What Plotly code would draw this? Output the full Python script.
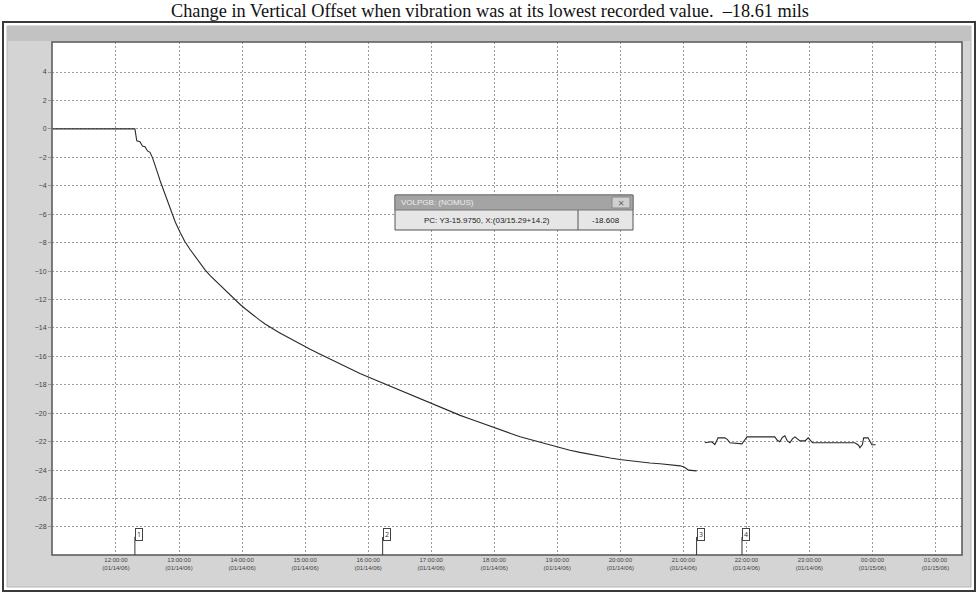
import plotly.graph_objects as go

# ---- data (x: hour index from start of window, y: vertical offset change, mils)
x_main = [0.0, 1.30, 1.33, 1.38, 1.42, 1.46, 1.50, 1.54, 1.58, 1.62, 1.66, 1.70, 1.78, 1.86, 1.94,
          2.02, 2.09, 2.17, 2.25, 2.33, 2.41, 2.49, 2.57, 2.65, 2.73, 2.81, 2.89, 2.97, 3.05,
          3.13, 3.21, 3.28, 3.36, 3.44, 3.52, 3.60, 3.68, 3.76, 3.84, 3.92, 4.08, 4.24, 4.40,
          4.55, 4.71, 4.87, 5.03, 5.19, 5.35, 5.50, 5.66, 5.82, 5.98, 6.14, 6.30, 6.46, 6.62,
          6.77, 6.93, 7.09, 7.25, 7.41, 7.57, 7.72, 7.88, 8.04, 8.20, 8.36, 8.52, 8.68, 8.84,
          8.99, 9.15, 9.31, 9.47, 9.63, 9.79, 9.95, 10.02, 10.08, 10.21]
y_main = [0.0, 0.0, -0.84, -0.90, -1.20, -1.25, -1.55, -1.65, -2.04, -2.50, -3.10, -3.65, -4.60,
          -5.65, -6.55, -7.30, -7.90, -8.45, -8.95, -9.45, -9.90, -10.30, -10.65, -11.00, -11.35,
          -11.70, -12.05, -12.35, -12.65, -12.95, -13.20, -13.45, -13.70, -13.95, -14.15, -14.35,
          -14.55, -14.75, -14.95, -15.15, -15.50, -15.85, -16.20, -16.50, -16.85, -17.20, -17.50,
          -17.80, -18.10, -18.40, -18.70, -18.95, -19.25, -19.55, -19.85, -20.15, -20.40, -20.65,
          -20.90, -21.15, -21.40, -21.65, -21.85, -22.05, -22.25, -22.45, -22.60, -22.75, -22.90,
          -23.05, -23.15, -23.25, -23.35, -23.45, -23.50, -23.55, -23.62, -23.70, -23.80, -24.00,
          -24.05]

x_late = [10.34, 10.45, 10.50, 10.55, 10.66, 10.70, 10.74, 10.93, 10.97, 11.01, 11.21, 11.45, 11.49,
          11.53, 11.57, 11.61, 11.65, 11.69, 11.73, 11.77, 11.85, 11.93, 11.98, 12.05, 12.72, 12.78,
          12.80, 12.84, 12.86, 12.93, 12.99, 13.05]
y_late = [-22.08, -22.01, -22.20, -21.73, -21.73, -21.85, -22.08, -22.15, -21.90, -21.66, -21.66,
          -21.66, -21.90, -22.01, -21.70, -21.59, -21.95, -22.08, -21.80, -21.66, -21.94, -21.94,
          -21.73, -22.08, -22.08, -22.25, -22.43, -22.20, -21.73, -21.73, -22.22, -22.22]

event_x = [1.30, 5.23, 10.21, 10.93]
event_labels = ["1", "2", "3", "4"]

y_ticks = [4, 2, 0, -2, -4, -6, -8, -10, -12, -14, -16, -18, -20, -22, -24, -26, -28]
x_ticks = list(range(1, 15))
x_tick_text = ["12:00:00<br>(01/14/06)", "13:00:00<br>(01/14/06)", "14:00:00<br>(01/14/06)",
               "15:00:00<br>(01/14/06)", "16:00:00<br>(01/14/06)", "17:00:00<br>(01/14/06)",
               "18:00:00<br>(01/14/06)", "19:00:00<br>(01/14/06)", "20:00:00<br>(01/14/06)",
               "21:00:00<br>(01/14/06)", "22:00:00<br>(01/14/06)", "23:00:00<br>(01/14/06)",
               "00:00:00<br>(01/15/06)", "01:00:00<br>(01/15/06)"]

title_text = "Change in Vertical Offset when vibration was at its lowest recorded value.  \u201318.61 mils"

# ---- layout geometry
W, H = 980, 594
L, R, T, B = 52, 962, 42, 555


def px(xp):
    return (xp - L) / (R - L)


def py(yp):
    return (B - yp) / (B - T)


fig = go.Figure()
line_style = dict(color="#2a2a2a", width=1.1)
fig.add_trace(go.Scatter(x=x_main, y=y_main, mode="lines", line=line_style, showlegend=False,
                         hoverinfo="skip"))
fig.add_trace(go.Scatter(x=x_late, y=y_late, mode="lines", line=line_style, showlegend=False,
                         hoverinfo="skip"))

shapes = []
# outer frame & grey panel
shapes.append(dict(type="rect", xref="paper", yref="paper", x0=px(3), x1=px(975), y0=py(591), y1=py(22),
                   line=dict(color="#3a3a3a", width=2), fillcolor="#ffffff", layer="below"))
shapes.append(dict(type="rect", xref="paper", yref="paper", x0=px(7), x1=px(971), y0=py(587), y1=py(26),
                   line=dict(color="#b8b8b8", width=1), fillcolor="#d4d4d4", layer="below"))
shapes.append(dict(type="rect", xref="paper", yref="paper", x0=px(7), x1=px(971), y0=py(41), y1=py(26),
                   line=dict(width=0), fillcolor="#c2c2c2", layer="below"))
shapes.append(dict(type="rect", xref="paper", yref="paper", x0=0, x1=1, y0=0, y1=1,
                   line=dict(width=0), fillcolor="#ffffff", layer="below"))
# plot border
shapes.append(dict(type="rect", xref="paper", yref="paper", x0=0, x1=1, y0=0, y1=1,
                   line=dict(color="#555555", width=1.5), layer="above"))

annotations = []
# event flags
for ex, lab in zip(event_x, event_labels):
    shapes.append(dict(type="line", xref="x", yref="y", x0=ex, x1=ex, y0=-30, y1=-28.7,
                       line=dict(color="#333333", width=1)))
    annotations.append(dict(x=ex, y=-29.0, xref="x", yref="y", text=lab, showarrow=False,
                            xanchor="left", yanchor="bottom", font=dict(size=7, color="#333333"),
                            bordercolor="#444444", borderwidth=1, borderpad=1, bgcolor="#ffffff"))

# popup box
bx0, bx1, by0, by1, bmid, bsplit = 395, 633, 195, 230, 210, 578
shapes.append(dict(type="rect", xref="paper", yref="paper", x0=px(bx0), x1=px(bx1), y0=py(by1), y1=py(by0),
                   line=dict(color="#555555", width=1), fillcolor="#e6e6e6", layer="above"))
shapes.append(dict(type="rect", xref="paper", yref="paper", x0=px(bx0), x1=px(bx1), y0=py(bmid), y1=py(by0),
                   line=dict(color="#777777", width=1), fillcolor="#a4a4a4", layer="above"))
shapes.append(dict(type="rect", xref="paper", yref="paper", x0=px(612), x1=px(630), y0=py(208), y1=py(197),
                   line=dict(color="#888888", width=1), fillcolor="#cfcfcf", layer="above"))
shapes.append(dict(type="line", xref="paper", yref="paper", x0=px(bsplit), x1=px(bsplit), y0=py(by1), y1=py(bmid),
                   line=dict(color="#555555", width=1), layer="above"))
annotations.append(dict(x=px(399), y=py(202.5), xref="paper", yref="paper", text="VOLPGB: (NOMUS)",
                        showarrow=False, xanchor="left", yanchor="middle",
                        font=dict(size=8, color="#ececec", family="Liberation Sans")))
annotations.append(dict(x=px(621), y=py(202.5), xref="paper", yref="paper", text="\u00d7",
                        showarrow=False, xanchor="center", yanchor="middle",
                        font=dict(size=11, color="#666666")))
annotations.append(dict(x=px((bx0 + bsplit) / 2), y=py(220), xref="paper", yref="paper",
                        text="PC: Y3-15.9750, X:(03/15.29+14.2)", showarrow=False,
                        xanchor="center", yanchor="middle",
                        font=dict(size=8, color="#222222", family="Liberation Sans")))
annotations.append(dict(x=px((bsplit + bx1) / 2), y=py(220), xref="paper", yref="paper",
                        text="-18.608", showarrow=False, xanchor="center", yanchor="middle",
                        font=dict(size=8, color="#222222", family="Liberation Sans")))

fig.update_layout(
    width=W, height=H,
    margin=dict(l=L, r=W - R, t=T, b=H - B, pad=0),
    paper_bgcolor="#ffffff", plot_bgcolor="#ffffff",
    title=dict(text=title_text, x=0.5, xref="container", xanchor="center", y=1 - 11 / H, yref="container",
               yanchor="middle", font=dict(family="Liberation Serif", size=18.3, color="#111111")),
    shapes=shapes, annotations=annotations, showlegend=False,
    xaxis=dict(range=[-0.015, 14.42], tickmode="array", tickvals=x_ticks, ticktext=x_tick_text,
               showgrid=True, gridcolor="#9a9a9a", griddash="2px,2px", gridwidth=1, zeroline=False,
               showline=False, ticks="", tickfont=dict(size=6, color="#444444", family="Liberation Sans")),
    yaxis=dict(range=[-29.97, 6.11], tickmode="array", tickvals=y_ticks,
               showgrid=True, gridcolor="#9a9a9a", griddash="2px,2px", gridwidth=1, zeroline=False,
               showline=False, ticks="outside", ticklen=3, tickcolor="#999999",
               tickfont=dict(size=7, color="#444444", family="Liberation Sans")),
)

fig.write_html("out.html", config={"displayModeBar": False},
               post_script="document.body.style.margin='0px';document.body.style.overflow='hidden';")
